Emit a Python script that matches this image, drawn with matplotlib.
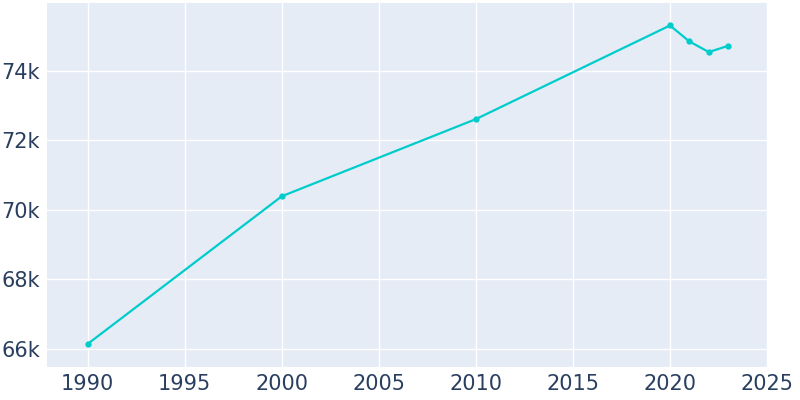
import matplotlib
matplotlib.use("Agg")
import matplotlib.pyplot as plt
from matplotlib.ticker import FuncFormatter

years = [1990, 2000, 2010, 2020, 2021, 2022, 2023]
population = [66140, 70390, 72610, 75305, 74845, 74540, 74720]
x_ticks = [1990, 1995, 2000, 2005, 2010, 2015, 2020, 2025]
y_ticks = [66000, 68000, 70000, 72000, 74000]

fig = plt.figure(figsize=(8, 4), dpi=100)
ax = fig.add_axes([47 / 800, 33 / 400, 721 / 800, 364 / 400])
ax.set_facecolor("#e5ecf6")

ax.plot(years, population, color="#00cccc", linewidth=1.6, marker="o",
        markersize=3.5, zorder=3)

ax.set_xlim(1987.9, 2025.05)
ax.set_ylim(65475, 75952)
ax.set_xticks(x_ticks)
ax.set_yticks(y_ticks)
ax.yaxis.set_major_formatter(FuncFormatter(lambda v, p: f"{int(v / 1000)}k"))

ax.grid(color="white", linewidth=1)
ax.set_axisbelow(True)
for s in ax.spines.values():
    s.set_visible(False)
ax.tick_params(length=0, labelsize=15, colors="#2a3f5f", pad=5)

fig.savefig("out.png", dpi=100)
